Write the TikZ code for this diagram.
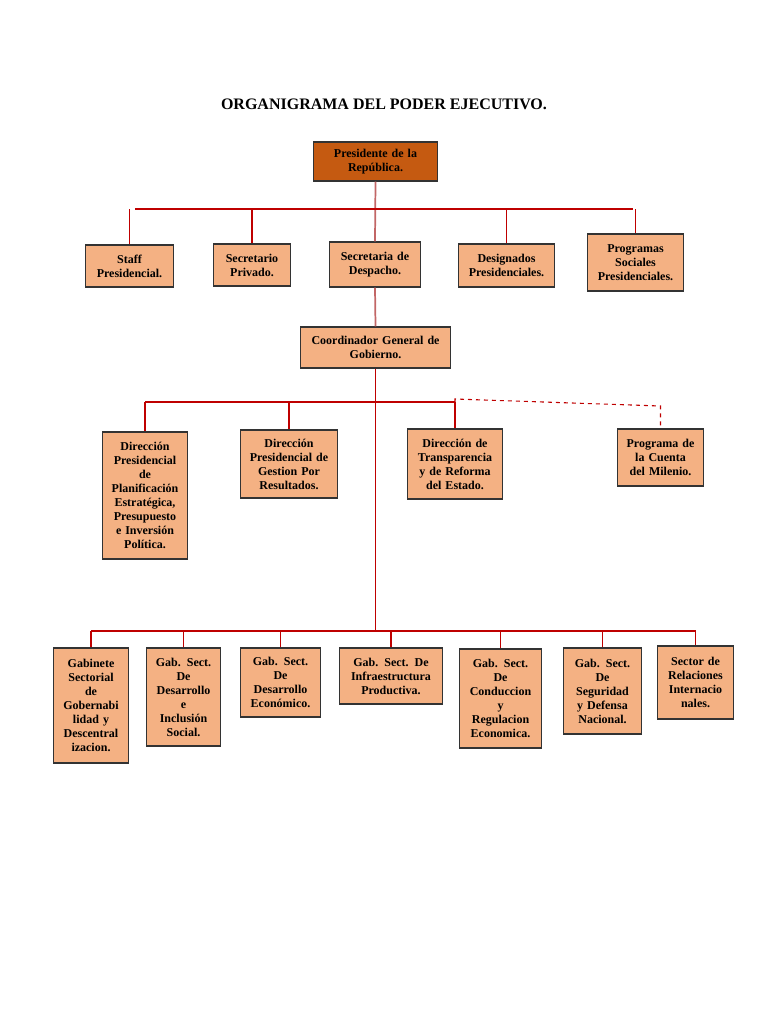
\documentclass[tikz,border=0pt]{standalone}
\usepackage{fontspec}
\setmainfont{Liberation Serif}
\begin{document}
\begin{tikzpicture}[x=0.75pt,y=-0.75pt,
  bx/.style={draw=black!80,line width=0.8pt,fill=orange!35!white!85!brown,fill=boxc,align=center,font=\bfseries\fontsize{9}{10.5}\selectfont,inner sep=1pt,minimum height=#1*0.75pt},
  bx/.default=10,
  ln/.style={draw=red!75!black,line width=1.3pt},
  dl/.style={draw=red!75!black,line width=0.8pt,dashed}]
\definecolor{boxc}{HTML}{F4B183}
\definecolor{presc}{HTML}{C55A11}
\useasboundingbox (0,0) rectangle (768,1024);
\node[font=\bfseries\fontsize{12}{14}\selectfont] (title) at (384,104) {ORGANIGRAMA DEL PODER EJECUTIVO.};
\node[bx=39,fill=presc,text width=122*0.75pt] (pres) at (375.5,161.5) {Presidente de la\\República.};
\node[bx=42,text width=85*0.75pt] (staff) at (129.5,266) {Staff\\Presidencial.};
\node[bx=42,text width=74*0.75pt] (spriv) at (252,265) {Secretario\\Privado.};
\node[bx=45,text width=88*0.75pt] (sdesp) at (375,264.5) {Secretaria de\\Despacho.\\[4pt]};
\node[bx=43,text width=93*0.75pt] (desig) at (506.5,265.5) {Designados\\Presidenciales.};
\node[bx=57,text width=93*0.75pt] (prog) at (635.5,262.5) {Programas\\Sociales\\Presidenciales.};
\node[bx=41,text width=147*0.75pt] (coord) at (375.5,347.5) {Coordinador General de\\Gobierno.};
\node[bx=127,text width=82*0.75pt] (d1) at (145,495.5) {Dirección\\Presidencial\\de\\Planificación\\Estratégica,\\Presupuesto\\e Inversión\\Política.};
\node[bx=68,text width=94*0.75pt] (d2) at (289,464) {Dirección\\Presidencial de\\Gestion Por\\Resultados.};
\node[bx=70,text width=92*0.75pt] (d3) at (455,464) {Dirección de\\Transparencia\\y de Reforma\\del Estado.};
\node[bx=57,text width=83*0.75pt] (d4) at (660.5,457.5) {Programa de\\la Cuenta\\del Milenio.};
\node[bx=115,text width=72*0.75pt] (g1) at (91,705.5) {Gabinete\\Sectorial\\de\\Gobernabi\\lidad y\\Descentral\\izacion.};
\node[bx=98,text width=71*0.75pt] (g2) at (183.5,697) {Gab. Sect.\\De\\Desarrollo\\e\\Inclusión\\Social.};
\node[bx=69,text width=77*0.75pt] (g3) at (280.5,682.5) {Gab. Sect.\\De\\Desarrollo\\Económico.};
\node[bx=56,text width=100*0.75pt] (g4) at (391,676) {Gab. Sect. De\\Infraestructura\\Productiva.};
\node[bx=99,text width=79*0.75pt] (g5) at (500.5,698.5) {Gab. Sect.\\De\\Conduccion\\y\\Regulacion\\Economica.};
\node[bx=86,text width=75*0.75pt] (g6) at (602.5,691) {Gab. Sect.\\De\\Seguridad\\y Defensa\\Nacional.};
\node[bx=73,text width=73*0.75pt] (g7) at (695.5,682.5) {Sector de\\Relaciones\\Internacio\\nales.};
% top bus
\coordinate (tb) at (375.5,209);
\draw[draw=red!60!black!60,line width=1.3pt] (pres.south) -- (sdesp.north);
\draw[ln] (135,209) -- (633,209);
\foreach \n in {staff,spriv,desig,prog} \draw[ln] (\n.north |- tb) -- (\n.north);
\draw[draw=red!60!black!60,line width=1.3pt] (sdesp.south) -- (coord.north);
% middle
\coordinate (mb) at (375.5,402);
\coordinate (bb) at (375.5,631);
\draw[ln] (coord.south) -- (bb);
\draw[ln] (d1.north |- mb) -- (d3.north |- mb);
\foreach \n in {d1,d2,d3} \draw[ln] (\n.north |- mb) -- (\n.north);
\draw[dl] (d3.north |- mb) -- ++(0,-3) -- ([yshift=-3]d4.north |- mb) -- (d4.north);
% bottom
\draw[ln] (g1.north |- bb) -- (g7.north |- bb);
\foreach \n in {g1,g2,g3,g4,g5,g6,g7} \draw[ln] (\n.north |- bb) -- (\n.north);
\end{tikzpicture}
\end{document}
